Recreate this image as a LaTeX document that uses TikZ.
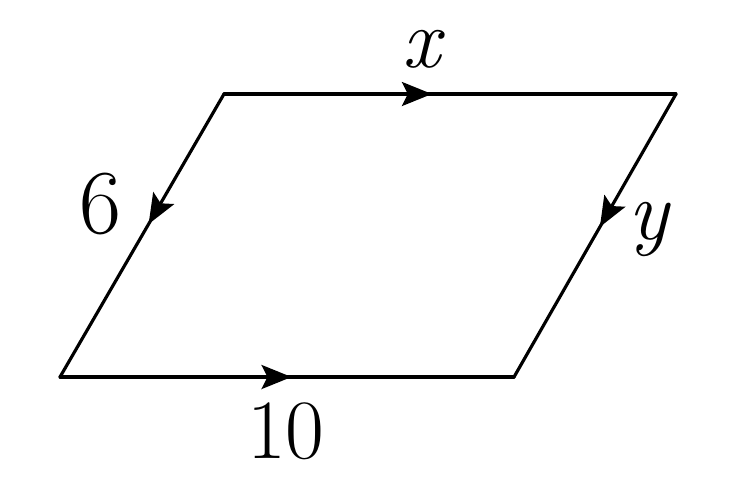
\documentclass[tikz,border=0pt]{standalone}
\usepackage{fontspec}
\usetikzlibrary{arrows.meta,decorations.markings}

\begin{document}
\begin{tikzpicture}[
    x=0.01cm, y=-0.01cm,
    edge/.style={line width=0.9pt, line cap=round,
      postaction={decorate},
      decoration={markings, mark=at position #1 with {\arrow{Stealth[length=3mm, width=2.4mm, inset=0.6mm]}}}},
    lbl/.style={inner sep=0pt, font=\fontsize{24}{28}\selectfont}
  ]
    \useasboundingbox (0,0) rectangle (735,490);
    % Corners of the parallelogram
    \coordinate (tl) at (224,94);
    \coordinate (tr) at (676,94);
    \coordinate (br) at (514,377);
    \coordinate (bl) at (60,377);

    % Sides with arrows
    \draw[edge=0.46] (tl) -- (tr);
    \draw[edge=0.47] (tr) -- (br);
    \draw[edge=0.51] (bl) -- (br);
    \draw[edge=0.46] (tl) -- (bl);

    % Labels
    \node[lbl] (lblx) at (421,49) {\itshape x};
    \node[lbl] (lbly) at (649,229) {\itshape y};
    \node[lbl, font=\fontsize{26}{30}\selectfont] (lbl6) at (100,204) {6};
    \node[lbl] (lbl10) at (286,431) {10};
  \end{tikzpicture}
\end{document}
